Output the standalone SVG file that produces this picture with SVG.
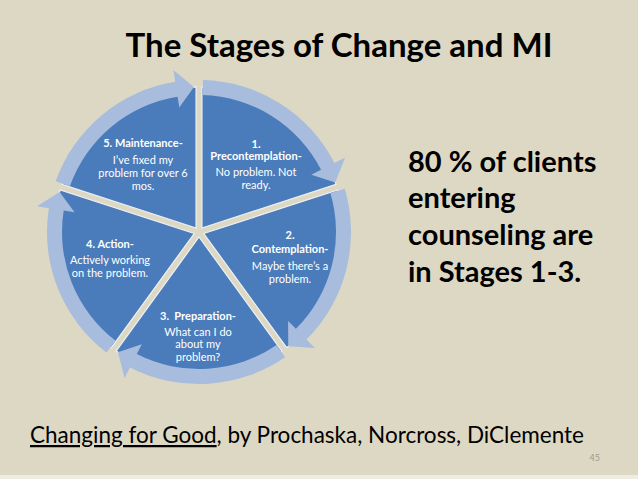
<svg xmlns="http://www.w3.org/2000/svg" width="638" height="479" viewBox="0 0 638 479">
<style>
.wedge{fill:#4a7cbb;stroke:#eef1f5;stroke-width:1.2;stroke-linejoin:miter}
.band{fill:#a8bcde}
.t{font-family:Lato,"Open Sans","Liberation Sans",sans-serif;fill:#ffffff;font-size:11px;text-anchor:middle}
.b{font-weight:bold}
.big{font-family:Lato,"Open Sans","Liberation Sans",sans-serif;font-weight:bold;fill:#000000}
</style>
<rect x="0" y="0" width="638" height="479" fill="#ddd8c3"/>
<rect x="0" y="475" width="638" height="4" fill="#eeece3"/>
<text class="big" x="339" y="57" font-size="33" text-anchor="middle">The Stages of Change and MI</text>

<g id="seg1">
<path class="wedge" d="M201.94,227.95 L201.94,86.95 A141,141 0 0 1 336.04,184.38 Z"/>
<text class="t b" x="256" y="148">1.</text>
<text class="t b" x="256" y="160">Precontemplation-</text>
<text class="t" x="256" y="176">No problem. Not</text>
<text class="t" x="256" y="189">ready.</text>
</g>
<g id="seg2">
<path class="wedge" d="M203.76,233.55 L337.86,189.98 A141,141 0 0 1 286.64,347.62 Z"/>
<text class="t b" x="290" y="239">2.</text>
<text class="t b" x="290" y="253">Contemplation-</text>
<text class="t" x="290" y="270">Maybe there’s a</text>
<text class="t" x="290" y="283">problem.</text>
</g>
<g id="seg3">
<path class="wedge" d="M199,237 L281.88,351.07 A141,141 0 0 1 116.12,351.07 Z"/>
<text class="t b" x="198" y="320" xml:space="preserve">3.  Preparation-</text>
<text class="t" x="198" y="336">What can I do</text>
<text class="t" x="198" y="348">about my</text>
<text class="t" x="198" y="361">problem?</text>
</g>
<g id="seg4">
<path class="wedge" d="M194.24,233.55 L111.36,347.62 A141,141 0 0 1 60.14,189.98 Z"/>
<text class="t b" x="110" y="248">4. Action-</text>
<text class="t" x="110" y="264">Actively working</text>
<text class="t" x="110" y="277">on the problem.</text>
</g>
<g id="seg5">
<path class="wedge" d="M196.06,227.95 L61.96,184.38 A141,141 0 0 1 196.06,86.95 Z"/>
<text class="t b" x="143" y="147">5. Maintenance-</text>
<text class="t" x="143" y="164">I’ve fixed my</text>
<text class="t" x="143" y="177">problem for over 6</text>
<text class="t" x="143" y="190">mos.</text>
</g>

<g id="connectors">
<path class="band" d="M202.98,80.05 A152,152 0 0 1 334.43,162.99 L345.12,157.54 L335.26,182.41 L311.27,174.80 L321.07,169.80 A137,137 0 0 0 202.59,95.05 Z"/>
<path class="band" d="M344.74,188.83 A152,152 0 0 1 306.48,339.48 L314.96,347.96 L288.28,346.26 L288.09,321.09 L295.87,328.87 A137,137 0 0 0 330.36,193.09 Z"/>
<path class="band" d="M285.09,357.26 A152,152 0 0 1 129.99,367.43 L124.54,378.12 L117.92,352.21 L141.80,344.27 L136.80,354.07 A137,137 0 0 0 276.60,344.90 Z"/>
<path class="band" d="M106.46,352.60 A152,152 0 0 1 48.87,208.23 L37.02,206.35 L59.61,192.04 L74.55,212.29 L63.69,210.57 A137,137 0 0 0 115.59,340.70 Z"/>
<path class="band" d="M55.72,181.26 A152,152 0 0 1 175.23,81.87 L173.35,70.02 L193.94,87.09 L179.29,107.55 L177.57,96.69 A137,137 0 0 0 69.86,186.27 Z"/>
</g>

<g class="big" font-size="29">
<text x="408" y="172">80 % of clients</text>
<text x="408" y="208">entering</text>
<text x="408" y="245">counseling are</text>
<text x="408" y="282">in Stages 1-3.</text>
</g>

<text font-family="Lato,'Open Sans','Liberation Sans',sans-serif" font-size="22.5" fill="#000000" x="30" y="443"><tspan text-decoration="underline">Changing for Good</tspan>, by Prochaska, Norcross, DiClemente</text>
<text font-family="Lato,'Open Sans','Liberation Sans',sans-serif" font-size="9" fill="#9a9a92" x="600" y="461" text-anchor="end">45</text>
</svg>
